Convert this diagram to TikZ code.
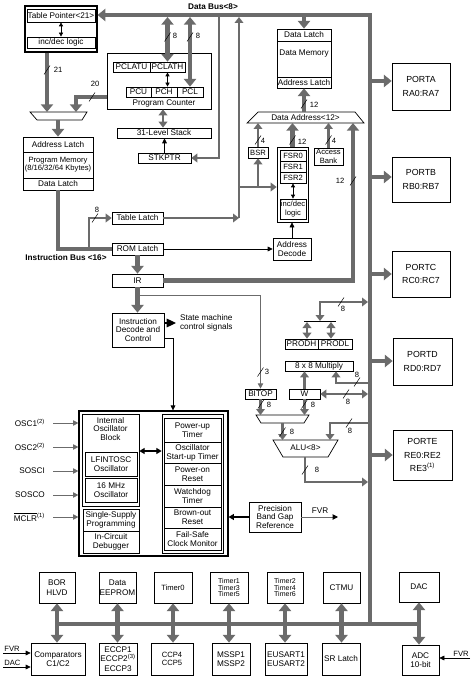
\documentclass[tikz,border=0pt]{standalone}
\usepackage{fontspec}
\setmainfont{Liberation Sans}
\usetikzlibrary{arrows.meta}
\colorlet{busgray}{black!58}
% bus width mark: slash centre, label position, label, label name
\newcommand{\busmark}[4]{%
  \draw[black,line width=0.45pt] (#1) ++(-3,4.5) -- ++(6,-9);
  \node[font=\fontsize{6.5}{7}\selectfont,inner sep=0pt] (#4) at (#2) {#3};}

\begin{document}
\begin{tikzpicture}[x=0.3mm,y=-0.3mm,font=\fontsize{7}{7.5}\selectfont,
    blk/.style n args={4}{draw,fill=white,inner sep=0pt,align=center,
      line width=0.6pt,minimum width={(#3-#1)*0.3mm},
      minimum height={(#4-#2)*0.3mm},at={({(#1+#3)/2},{(#2+#4)/2})}},
    bus/.style={busgray,line width=3.8pt},
    busarr/.style={bus,-{Triangle[length=2.3mm,width=3.6mm]}},
    busdbl/.style={bus,{Triangle[length=2.3mm,width=3.6mm]}-{Triangle[length=2.3mm,width=3.6mm]}},
    mid/.style={busgray,line width=2pt},
    midarr/.style={mid,-{Triangle[length=1.8mm,width=2.6mm]}},
    middbl/.style={mid,{Triangle[length=1.8mm,width=2.6mm]}-{Triangle[length=1.8mm,width=2.6mm]}},
    wire/.style={busgray,line width=0.8pt,-{Triangle[length=1.6mm,width=1.6mm]}},
    ctl/.style={black,line width=0.6pt,-{Triangle[length=1.5mm,width=1.4mm]}},
    ctldbl/.style={black,line width=0.6pt,{Triangle[length=1.2mm,width=1.2mm]}-{Triangle[length=1.2mm,width=1.2mm]}},
    heavy/.style={black,line width=1.1pt},
    port/.style={font=\fontsize{7.5}{11.5}\selectfont},
    small/.style={font=\fontsize{6.5}{7}\selectfont},
    title/.style={font=\bfseries\fontsize{7}{7}\selectfont}]
  \useasboundingbox (0,0) rectangle (474,679);
  \coordinate (vb) at (370,15);
  \coordinate (vbl) at (368,15);

  % Table pointer and program counter
  \node[blk={25}{6}{97}{52},line width=1pt] (tpo) {};
  \node[blk={27}{9}{95}{22}] (tp) {Table Pointer<21>};
  \node[blk={27}{37}{95}{48}] (tpid) {inc/dec logic};
  \node[blk={107}{53}{211}{109}] (pco) {};
  \node[blk={113}{62}{150}{72}] (pclatu) {PCLATU};
  \node[blk={150}{62}{185}{72}] (pclath) {PCLATH};
  \node[blk={126}{87}{151}{97}] (pcu) {PCU};
  \node[blk={151}{87}{177}{97}] (pch) {PCH};
  \node[blk={177}{87}{203}{97}] (pcl) {PCL};
  \node (pclbl) at (164,103) {Program Counter};
  \node[blk={117}{128}{211}{138}] (stack) {31-Level Stack};
  \node[blk={138}{153}{191}{163}] (stkptr) {STKPTR};

  % Program memory
  \draw[line width=0.6pt] (30,112) -- (87,112) -- (82,120) -- (37,120) -- cycle;
  \coordinate (muxl) at (47,112);
  \coordinate (muxr) at (76,112);
  \coordinate (muxo) at (58,120);
  \node[blk={23}{137}{93}{152}] (pmal) {Address Latch};
  \node[blk={23}{152}{93}{178},small] (pmem) {Program Memory\\(8/16/32/64 Kbytes)};
  \node[blk={23}{178}{93}{190}] (pmdl) {Data Latch};
  \node[blk={112}{212}{163}{224}] (tlat) {Table Latch};
  \node[blk={112}{243}{163}{255}] (rom) {ROM Latch};
  \node[blk={112}{274}{163}{287}] (ir) {IR};
  \node[blk={112}{313}{164}{347}] (idc) {Instruction\\Decode and\\Control};
  \node[anchor=west,align=left] (smc) at (176,323) {State machine\\control signals};

  % Data memory
  \node[blk={277}{29}{331}{41}] (dmdl) {Data Latch};
  \node[blk={277}{41}{331}{77}] (dmem) {};
  \node (dmtxt) at (304,54) {Data Memory};
  \node[blk={277}{77}{331}{88}] (dmal) {Address Latch};
  \draw[line width=0.6pt] (258,112) -- (355,112) -- (364,123) -- (247,123) -- cycle;
  \node (daddr) at (305.5,117.5) {Data Address<12>};
  \node[blk={248}{147}{268}{158},small] (bsr) {BSR};
  \node[blk={277}{147}{308}{222}] (fsro) {};
  \node[blk={280}{150}{306}{161},small] (fsr0) {FSR0};
  \node[blk={280}{161}{306}{172},small] (fsr1) {FSR1};
  \node[blk={280}{172}{306}{183},small] (fsr2) {FSR2};
  \node[blk={280}{199}{306}{219},small] (fsrid) {inc/dec\\logic};
  \node[blk={314}{148}{343}{165},small] (abank) {Access\\Bank};
  \node[blk={273}{238}{311}{260}] (adec) {Address\\Decode};

  % Ports
  \node[blk={392}{63}{450}{110},port] (porta) {PORTA\\RA0:RA7};
  \node[blk={392}{157}{450}{202},port] (portb) {PORTB\\RB0:RB7};
  \node[blk={392}{251}{450}{297},port] (portc) {PORTC\\RC0:RC7};
  \node[blk={393}{338}{452}{385},port] (portd) {PORTD\\RD0:RD7};
  \node[blk={393}{430}{452}{480},port] (porte) {PORTE\\RE0:RE2\\RE3\textsuperscript{(1)}};

  % Multiply and ALU
  \draw[line width=0.6pt] (304,321) -- (336,321);
  \node[blk={285}{339}{318}{349}] (prodh) {PRODH};
  \node[blk={318}{339}{352}{349}] (prodl) {PRODL};
  \node[blk={285}{361}{353}{371}] (mult) {8 x 8 Multiply};
  \node[blk={289}{389}{320}{399}] (wreg) {W};
  \node[blk={245}{389}{276}{399}] (bitop) {BITOP};
  \draw[line width=0.6pt] (256,415) -- (309,415) -- (304,423) -- (261,423) -- cycle;
  \draw[line width=0.6pt] (273,440) -- (338,440) -- (328,457) -- (283,457) -- cycle;
  \node (alu) at (305.5,448) {ALU<8>};

  % Oscillators and resets
  \node[blk={79}{411}{228}{556},line width=1pt] (osco) {};
  \node[blk={82}{414}{139}{506}] (iob) {};
  \node[align=center] (iobtxt) at (110.5,429) {Internal\\Oscillator\\Block};
  \node[blk={85}{452}{137}{476}] (lfint) {LFINTOSC\\Oscillator};
  \node[blk={85}{478}{137}{502}] (mhz) {16 MHz\\Oscillator};
  \node[blk={83}{509}{139}{531}] (ssp) {Single-Supply\\Programming};
  \node[blk={83}{531}{139}{553}] (icd) {In-Circuit\\Debugger};
  \node[blk={162}{414}{223}{553}] (rsto) {};
  \node[blk={164}{418}{221}{550}] (rsti) {};
  \node[blk={164}{418}{221}{442}] (pwrt) {Power-up\\Timer};
  \node[blk={164}{442}{221}{463}] (ost) {Oscillator\\Start-up Timer};
  \node[blk={164}{463}{221}{485}] (por) {Power-on\\Reset};
  \node[blk={164}{485}{221}{507}] (wdt) {Watchdog\\Timer};
  \node[blk={164}{507}{221}{528}] (bor) {Brown-out\\Reset};
  \node[blk={164}{528}{221}{550}] (fscm) {Fail-Safe\\Clock Monitor};
  \node[blk={249}{502}{301}{532}] (pbg) {Precision\\Band Gap\\Reference};
  \node[anchor=east] (osc1) at (49,423) {OSC1\textsuperscript{(2)}};
  \node[anchor=east] (osc2) at (49,447) {OSC2\textsuperscript{(2)}};
  \node[anchor=east] (sosci) at (49,471) {SOSCI};
  \node[anchor=east] (sosco) at (49,495) {SOSCO};
  \node[anchor=east] (mclr) at (49,517) {$\overline{\hbox{MCLR}}$\textsuperscript{(1)}};

  % Peripherals
  \node[blk={39}{572}{75}{603}] (borhlvd) {BOR\\[1.5pt]HLVD};
  \node[blk={99}{572}{136}{603}] (deep) {Data\\[1.5pt]EEPROM};
  \node[blk={154}{572}{192}{603},small] (tmr0) {Timer0};
  \node[blk={210}{572}{248}{603},font=\fontsize{6}{5.6}\selectfont] (tmr1) {Timer1\\Timer3\\Timer5};
  \node[blk={267}{572}{303}{603},font=\fontsize{6}{5.6}\selectfont] (tmr2) {Timer2\\Timer4\\Timer6};
  \node[blk={323}{572}{360}{603}] (ctmu) {CTMU};
  \node[blk={399}{572}{439}{602}] (dac) {DAC};
  \node[blk={31}{643}{85}{675}] (cmp) {Comparators\\C1/C2};
  \node[blk={99}{643}{137}{675},font=\fontsize{7}{8}\selectfont] (eccp) {ECCP1\\ECCP2\textsuperscript{(3)}\\ECCP3};
  \node[blk={151}{643}{193}{675},small] (ccp) {CCP4\\CCP5};
  \node[blk={212}{643}{250}{675}] (mssp) {MSSP1\\MSSP2};
  \node[blk={265}{643}{307}{675}] (eusart) {EUSART1\\EUSART2};
  \node[blk={322}{643}{360}{675}] (srl) {SR Latch};
  \node[blk={402}{645}{439}{675}] (adc) {ADC\\10-bit};
  \node[anchor=south west,inner sep=1pt,small] (fvra) at (3,653) {FVR};
  \node[anchor=south west,inner sep=1pt,small] (daca) at (3,667) {DAC};
  \node[anchor=south east,inner sep=1pt,small] (fvrb) at (470,658) {FVR};

  % Data bus
  \draw[busarr] (370,624) -- (vb) -- (tpo.east |- vb);
  \node[title] (dblbl) at (213,7) {Data Bus<8>};
  \draw[busarr] (dmdl.north |- 0,17) -- (dmdl.north);
  \draw[busdbl] (pclath.north |- 0,17) -- (pclath.north);
  \draw[busdbl] (pcl.north |- 0,17) -- (pcl.north);
  \busmark{167.5,37}{175,36}{8}{m1}
  \busmark{190,37}{198,36}{8}{m2}
  \draw[ctldbl] (pclath.south) -- (pclath.south |- pch.north);
  \draw[ctldbl] (tp.south) -- (tpid.north);
  \draw[middbl] (pco.south -| 163,0) -- (stack.north -| 163,0);
  \draw[ctl] (stkptr.north) -- (stkptr.north |- stack.south);
  \draw[midarr,line width=1.3pt] (219,17) |- (stkptr.east);
  \foreach \p/\y in {porta/81,portb/177,portc/274,portd/361,porte/455}
    \draw[busarr] (vb |- 0,\y) -- (\p.west |- 0,\y);

  % Program memory buses
  \draw[busarr] (tpo.south -| muxl) -- (muxl);
  \busmark{47,70}{58,70}{21}{m3}
  \draw[busarr] (pco.west |- 0,97) -| (muxr);
  \busmark{92,97}{95,84}{20}{m4}
  \draw[busarr] (muxo) -- (pmal.north -| muxo);
  \draw[bus] (pmdl.south -| muxo) |- (rom.west);
  \node[title] (iblbl) at (66,258) {Instruction Bus <16>};
  \draw[midarr,line width=1.5pt] (89,249) |- (tlat.west);
  \busmark{95,218}{97,210}{8}{m10}
  \draw[busarr] (rom.south) -- (ir.north);
  \draw[busarr] (ir.south) -- (ir.south |- idc.north);
  \draw[ctl] (rom.east) -- (adec.west |- rom.east);
  \draw[ctl] (adec.north) -- (adec.north |- fsro.south);
  \coordinate (tlj) at (239,218);
  \draw[midarr,line width=1.5pt] (tlat.east) -- (tlj);
  \draw[midarr,line width=1.5pt] (tlj) -- (tlj |- 0,17);
  \draw[midarr,line width=1.5pt] (tlj |- 0,187) -- (fsro.west |- 0,187);
  \draw[midarr,line width=1.5pt] (bsr.south |- 0,187) -- (bsr.south);

  % Data address
  \draw[midarr] (bsr.north) -- (bsr.north |- 0,123);
  \busmark{258,140}{263,141}{4}{m6}
  \draw[busarr] (fsro.north) -- (fsro.north |- 0,123);
  \busmark{292.5,140}{302,142}{12}{m7}
  \draw[midarr] (abank.north) -- (abank.north |- 0,123);
  \busmark{328.5,140}{334,141}{4}{m8}
  \draw[busarr] (dmal.south |- 0,112) -- (dmal.south);
  \busmark{304,104}{314,105}{12}{m5}
  \draw[ctldbl] (fsr2.south) -- (fsrid.north);
  \draw[busarr] (ir.east) -| (353,123);
  \busmark{353,181}{340,181}{12}{m9}

  % Decode and control
  \coordinate (irtap) at (140,295);
  \draw[wire] (irtap) -| (bitop.north);
  \busmark{260.5,372}{267,372}{3}{m11}
  \draw[black,line width=1pt,-{Triangle[length=2.8mm,width=2.6mm]}] (idc.east |- smc) -- (smc.west);
  \draw[ctl] (idc.east |- 0,338) -| (osco.north -| 173,0);

  % Multiply and ALU buses
  \draw[middbl] (320,321) |- (vbl |- 0,302);
  \busmark{341,302}{343,309}{8}{m12}
  \draw[middbl] (prodh.north -| 307,0) -- (307,322);
  \draw[middbl] (prodl.north -| 331,0) -- (331,322);
  \draw[midarr] (vbl |- 0,383) -| (mult.south -| 336,0);
  \busmark{357,382}{357,375}{8}{m13}
  \draw[middbl] (wreg.east) -- (vbl |- wreg.east);
  \busmark{346,394}{348,402}{8}{m14}
  \draw[midarr] (wreg.north) -- (wreg.north |- mult.south);
  \draw[midarr] (bitop.south) -- (bitop.south |- 0,415);
  \busmark{261,404}{269,405}{8}{m15}
  \draw[midarr] (wreg.south) -- (wreg.south |- 0,415);
  \busmark{304.5,404}{313,405}{8}{m16}
  \draw[midarr] (282.5,423) -- (282.5,440);
  \busmark{282.5,432}{292,432}{8}{m17}
  \draw[midarr] (vbl |- 0,423) -| (330,440);
  \busmark{349,423}{350,431}{8}{m18}
  \draw[midarr] (305,457) |- (vbl |- 0,482);
  \busmark{305,470}{317,470}{8}{m19}

  % Clock and reset wires
  \foreach \n in {osc1,osc2,sosci,sosco,mclr}
    \draw[wire] ([xshift=1.2mm]\n.east) -- (osco.west |- \n.east);
  \draw[heavy,{Triangle[length=1.6mm,width=1.8mm]}-{Triangle[length=1.6mm,width=1.8mm]}]
    (iob.east |- 0,451) -- (rsto.west |- 0,451);
  \draw[heavy,-{Triangle[length=1.6mm,width=1.8mm]}] (pbg.west) -- (osco.east |- pbg.west);
  \coordinate (fvrend) at (338,517);
  \draw[busgray,line width=0.8pt,-{Triangle[length=1.6mm,width=1.6mm,color=black]}] (pbg.east) -- (fvrend);
  \node (fvro) at (320,511) {FVR};

  % Peripheral bus
  \draw[bus] (borhlvd.south |- 0,624) -- (dac.south |- 0,624);
  \foreach \a/\b in {borhlvd/cmp,deep/eccp,tmr0/ccp,tmr1/mssp,tmr2/eusart,ctmu/srl,dac/adc}
    \draw[busdbl] (\a.south) -- (\a.south |- \b.north);
  \draw[ctl] (fvra.south west) -- (cmp.west |- fvra.south west);
  \draw[ctl] (daca.south west) -- (cmp.west |- daca.south west);
  \draw[ctl] (fvrb.south east) -- (adc.east |- fvrb.south east);
\end{tikzpicture}
\end{document}
